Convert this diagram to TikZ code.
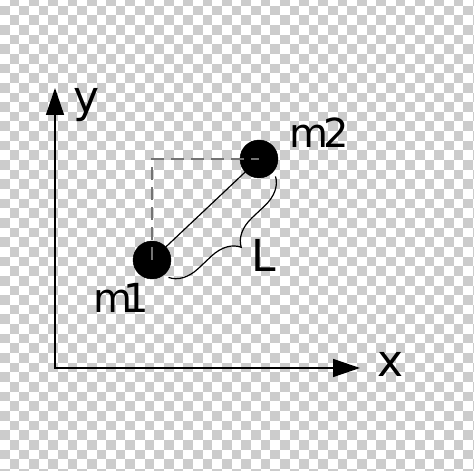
\documentclass[tikz,border=0pt]{standalone}
\usepackage{fontspec}
\setmainfont{DejaVu Sans}
\usepackage{tikz}
\usetikzlibrary{arrows.meta,decorations.pathreplacing}
\tikzset{
    checker/.style = {fill=gray!40, draw=none},
    axis-line/.style = {draw=black, line width=1.5pt, line join=miter,
        {Triangle[length=27pt,width=18pt]}-{Triangle[length=27pt,width=18pt]}},
    mass-dot/.style = {circle, fill=black, draw=black, minimum size=38pt, inner sep=0pt},
    rod-line/.style = {draw=black, line width=1.2pt},
    guide-line/.style = {draw=black!55, line width=1.3pt, dash pattern=on 13pt off 7pt},
    brace-line/.style = {draw=black, line width=1.2pt,
        decorate, decoration={brace, amplitude=28pt, mirror}},
    big-label/.style = {inner sep=0pt, anchor=base west, font=\fontsize{44}{50}\selectfont},
    mass-label/.style = {inner sep=0pt, anchor=base west, font=\fontsize{40}{46}\selectfont},
}

\begin{document}
\begin{tikzpicture}[x=1pt,y=1pt]
\useasboundingbox (0,0) rectangle (474,471);
\clip (0,0) rectangle (474,471);
% transparency pattern behind the figure
\foreach \j in {0,...,49} {
  \foreach \i in {0,...,24} {
    \pgfmathsetmacro{\cx}{(2*\i+mod(\j+1,2))*9.65}
    \pgfmathsetmacro{\cy}{474.95-(\j+1)*9.65}
    \fill[checker] (\cx,\cy) rectangle ++(9.65,9.65);
  }
}

% axes
\coordinate (origin) at (55,103);
\coordinate (y-tip) at (55,383);
\coordinate (x-tip) at (360,103);
\draw[axis-line] (y-tip) |- (x-tip);
\node[big-label] (y-label) at (73,358) {y};
\node[big-label] (x-label) at (377,94) {x};

% the two masses
\node[mass-dot] (m1) at (152,211) {};
\node[mass-dot] (m2) at (259,312) {};
\draw[rod-line] (m1) -- (m2);
\draw[guide-line] (m1.center) |- (m2.center);
\draw[brace-line] ([shift={(16.5,-17.4)}]m1.center) -- ([shift={(16.5,-17.4)}]m2.center);

\node[mass-label] (m1-label) at (93,158) {m\kern-9pt1};
\node[mass-label] (m2-label) at (289,323) {m\kern-4.5pt2};
\node[big-label] (L-label) at (251,199) {L};
\end{tikzpicture}
\end{document}
